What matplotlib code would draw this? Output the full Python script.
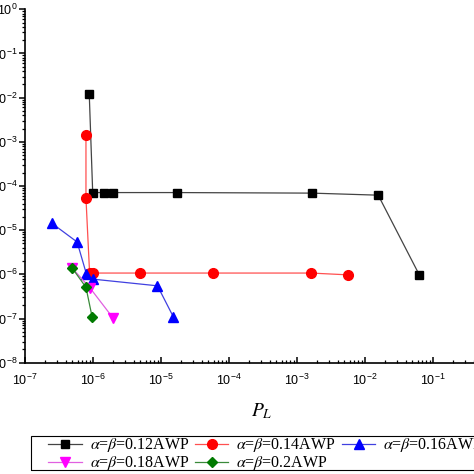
import matplotlib
matplotlib.use("Agg")
import matplotlib.pyplot as plt
from matplotlib.font_manager import FontProperties
from matplotlib.patches import Rectangle
from matplotlib.ticker import LogLocator, NullFormatter

plt.rcParams['font.family'] = 'Liberation Sans'
plt.rcParams['mathtext.fontset'] = 'custom'
plt.rcParams['mathtext.rm'] = 'Liberation Sans'
plt.rcParams['mathtext.it'] = 'Liberation Sans:italic'

# --- data (x = P_L, y = second probability)
labels = ["0.12AWP", "0.14AWP", "0.16AWP", "0.18AWP", "0.2AWP"]

x_012 = [8.9e-7, 1.0e-6, 1.48e-6, 2.0e-6, 1.72e-5, 1.66e-3, 1.58e-2, 6.35e-2]
y_012 = [1.19e-2, 7.1e-5, 7.1e-5, 7.1e-5, 7.1e-5, 6.9e-5, 6.2e-5, 9.75e-7]

x_014 = [7.96e-7, 7.96e-7, 9.0e-7, 1.0e-6, 4.97e-6, 5.8e-5, 1.62e-3, 5.6e-3]
y_014 = [1.41e-3, 5.3e-5, 1.07e-6, 1.07e-6, 1.07e-6, 1.07e-6, 1.07e-6, 9.75e-7]

x_016 = [2.5e-7, 5.9e-7, 8.05e-7, 1.0e-6, 8.97e-6, 1.53e-5]
y_016 = [1.44e-5, 5.4e-6, 1.04e-6, 7.8e-7, 5.5e-7, 1.1e-7]

x_018 = [5.0e-7, 9.1e-7, 2.0e-6]
y_018 = [1.38e-6, 4.95e-7, 1.02e-7]

x_020 = [5.0e-7, 7.96e-7, 9.8e-7]
y_020 = [1.38e-6, 5.1e-7, 1.09e-7]

series = [
    (x_012, y_012, 's', '#000000', '#444444', 6.0),
    (x_014, y_014, 'o', '#ff0000', '#ff5050', 7.0),
    (x_016, y_016, '^', '#0000ff', '#4040e0', 7.0),
    (x_018, y_018, 'v', '#ff00ff', '#e060e0', 7.0),
    (x_020, y_020, 'D', '#007a00', '#3a8a3a', 5.5),
]

W = 474.0
fig = plt.figure(figsize=(4.74, 4.74), dpi=100)
ax = fig.add_axes([24.7 / W, 1 - 362.7 / W, 476 / W, 353.4 / W])

handles = []
for (xs, ys, mk, mc, lc, ms), lab in zip(series, labels):
    h, = ax.plot(xs, ys, color=lc, lw=0.9, marker=mk, ms=ms,
                 markerfacecolor=mc, markeredgecolor=mc,
                 label=r'$\alpha$=$\beta$=' + lab)
    handles.append(h)

ax.set_xscale('log')
ax.set_yscale('log')
ax.set_xlim(1e-7, 1e0)
ax.set_ylim(1e-8, 1e0)

ax.spines['top'].set_visible(False)
ax.spines['right'].set_visible(False)
for s in ('left', 'bottom'):
    ax.spines[s].set_linewidth(1.2)

ax.xaxis.set_major_locator(LogLocator(base=10, numticks=20))
ax.yaxis.set_major_locator(LogLocator(base=10, numticks=20))
ax.xaxis.set_minor_locator(LogLocator(base=10, subs=range(2, 10), numticks=100))
ax.yaxis.set_minor_locator(LogLocator(base=10, subs=range(2, 10), numticks=100))
ax.xaxis.set_minor_formatter(NullFormatter())
ax.yaxis.set_minor_formatter(NullFormatter())

ax.tick_params(axis='x', which='major', direction='in', length=4, width=1.1,
               labelsize=9, pad=7)
ax.tick_params(axis='x', which='minor', direction='in', length=2.2, width=0.9)
ax.tick_params(axis='y', which='major', direction='out', length=4, width=1.1,
               labelsize=9, pad=1)
ax.tick_params(axis='y', which='minor', direction='out', length=2.2, width=0.9)

serif_it = FontProperties(family='Liberation Serif', style='italic', size=14,
                          math_fontfamily='stix')
fig.text(262 / W, 1 - 411 / W, r'$P_{L}$', fontproperties=serif_it,
         ha='center', va='center')

# legend frame drawn by hand so it runs off the right edge like the original
fig.patches.append(Rectangle((30.7 / W, 1 - 470 / W), 500 / W, 34 / W,
                             transform=fig.transFigure, fill=False,
                             edgecolor='black', lw=0.8))

leg_font = FontProperties(family='Liberation Serif', size=11.5,
                          math_fontfamily='stix')
# row-wise order: 0.12, 0.14, 0.16 / 0.18, 0.2
order = [0, 3, 1, 4, 2]
leg = fig.legend([handles[i] for i in order],
                 [handles[i].get_label() for i in order],
                 loc='center left', bbox_to_anchor=(48 / W, 1 - 454.5 / W),
                 ncol=3, prop=leg_font, frameon=False, borderaxespad=0,
                 borderpad=0, handlelength=2.1, handletextpad=0.5,
                 columnspacing=0.35, labelspacing=0.0, numpoints=1)

fig.savefig('out.png', dpi=100)
